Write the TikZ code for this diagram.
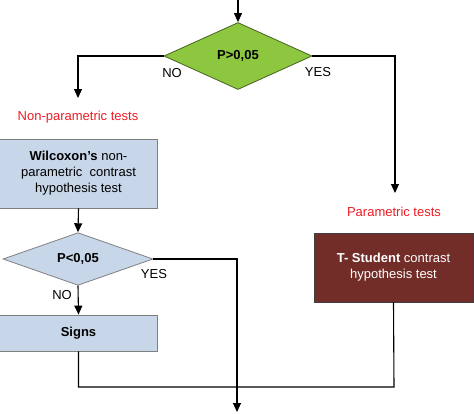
\documentclass[tikz,border=0pt]{standalone}
\usepackage{fontspec}
\setmainfont{Liberation Sans}
\usetikzlibrary{arrows.meta,positioning,shapes.geometric}
\definecolor{decgreen}{RGB}{141,198,63}
\definecolor{boxblue}{RGB}{199,214,232}
\definecolor{boxred}{RGB}{115,45,40}
\definecolor{labred}{RGB}{236,28,36}
\newcommand{\flowfont}{\fontsize{13}{16}\selectfont}
\tikzset{
testbox/.style={
  rectangle,
  line width=0.8pt,
  inner sep=0pt,
  align=center,
  draw={rgb:black,1;white,1},
  fill=boxblue,
  minimum width=158pt,
  }
}
\tikzset{
decision/.style={
  diamond,
  line width=0.8pt,
  inner sep=0pt,
  align=center,
  draw={rgb:black,1;white,1},
  font=\flowfont\bfseries,
  }
}
\tikzset{
flowline/.style={
  line width=1.1pt,
  -{Triangle[length=9pt,width=8pt]}
  }
}
\tikzset{
plainline/.style={
  line width=1.1pt
  }
}

\begin{document}
\begin{tikzpicture}[x=1pt,y=-1pt,font=\flowfont]
    \useasboundingbox (0,0) rectangle (474,413);
    \coordinate (start) at (238,0);
    \node[decision, fill=decgreen, draw={rgb:decgreen,1;black,1}, minimum width=148pt, minimum height=67pt] (pbig) at (238,56) {P>0,05};
    \node[] (no_top) at (172,73) {NO};
    \node[] (yes_top) at (318,72) {YES};
    \coordinate (np_in) at (78,98);
    \coordinate (p_in) at (395,193);
    \node[text=labred] (nonpar) at (78,117) {Non-parametric tests};
    \node[text=labred] (par) at (394,212) {Parametric tests};
    \node[testbox, minimum height=69pt] (wilc) at (78.5,173.5) {\textbf{Wilcoxon's} non-\\parametric\ \ contrast\\hypothesis test};
    \node[decision, fill=boxblue, minimum width=150pt, minimum height=48pt] (psmall) at (78,259) {P<0,05};
    \node[] (yes_low) at (154,274) {YES};
    \node[] (no_low) at (62,295) {NO};
    \node[testbox, minimum height=36pt, font=\flowfont\bfseries] (signs) at (78.5,333) {Signs};
    \node[testbox, fill=boxred, draw={rgb:black,3;white,1}, text=white, minimum width=159pt, minimum height=69pt] (tstud) at (393.5,267.5) {\textbf{T- Student} contrast\\hypothesis test};
    \coordinate (join_l) at (78,387);
    \coordinate (join_r) at (394,387);
    \coordinate (finish) at (237,412);

    \draw[flowline] (start) -- (pbig.north);
    \draw[flowline] (pbig.west) -| (np_in);
    \draw[flowline] (pbig.east) -| (p_in);
    \draw[flowline] (wilc.south) -- (psmall.north);
    \draw[flowline] (psmall.south) -- (signs.north);
    \draw[flowline] (psmall.east) -| (finish);
    \draw[plainline] (signs.south) |- (join_r) -- (tstud.south);
\end{tikzpicture}
\end{document}
